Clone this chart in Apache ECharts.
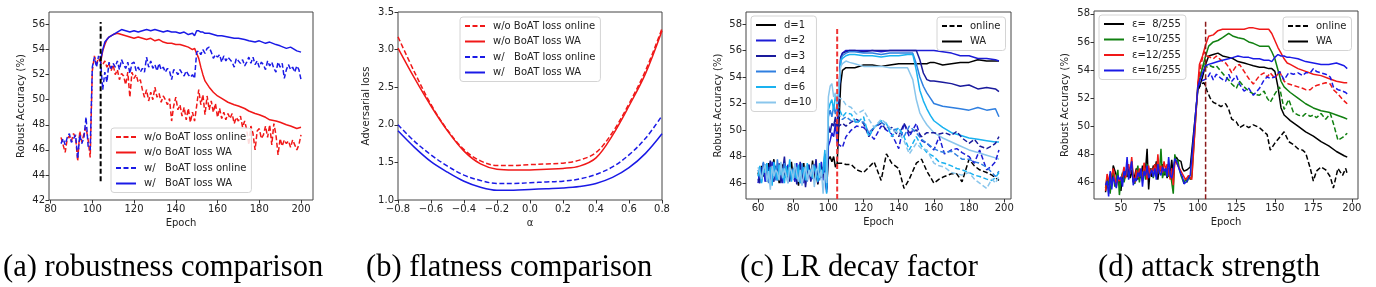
<!DOCTYPE html>
<html>
<head>
<meta charset="utf-8">
<script src="https://cdn.jsdelivr.net/npm/echarts/dist/echarts.min.js"></script>
<style>
  html, body { margin: 0; padding: 0; background: #fff; }
  #chart { width: 1376px; height: 287px; }
</style>
</head>
<body>
<div id="chart"></div>
<script>
// ---- (a) robustness comparison: online values per epoch 85..200, WA at listed epochs
const aStart = 85;
const aOnlineNo = [
  47.0,46.4,45.8,46.9,47.1,46.7,47.3,47.0,45.1,47.5,
  46.6,47.3,47.8,46.8,45.4,52.3,53.5,52.9,53.3,53.0,
  52.8,53.1,52.6,52.9,52.3,52.8,52.0,52.4,51.6,52.1,
  51.9,51.2,52.2,50.2,52.2,51.7,52.0,51.4,51.6,50.8,
  50.2,50.8,49.9,50.6,50.0,51.0,50.2,50.5,49.8,50.3,
  50.0,49.6,50.1,48.3,49.5,50.2,49.2,49.6,48.7,49.4,
  48.4,49.3,48.2,49.0,48.3,49.5,50.8,49.6,50.4,48.8,
  50.3,49.2,49.9,49.0,49.7,48.6,49.3,48.5,49.0,48.4,
  48.9,48.5,48.9,48.1,48.6,48.3,48.7,47.8,48.3,47.6,
  46.4,47.9,47.3,46.0,47.5,47.7,46.9,47.2,47.9,47.0,
  48.0,46.4,48.1,47.2,45.6,46.9,46.3,46.8,46.5,46.7,
  46.2,46.8,46.4,46.0,46.4,47.2
];
const aOnlineW = [
  46.5,46.9,46.4,47.0,47.3,46.6,46.9,47.2,45.3,47.2,
  46.5,47.0,48.6,46.3,46.0,52.6,53.4,52.6,53.5,53.0,
  50.8,52.2,51.4,53.0,52.5,52.9,52.6,53.1,52.4,53.2,
  52.8,52.5,53.0,52.1,52.9,53.0,52.3,52.6,52.2,52.5,
  52.2,53.4,52.6,53.1,52.5,52.8,52.3,52.9,52.4,52.6,
  52.2,52.5,52.3,51.6,52.4,52.3,52.0,52.4,52.1,51.9,
  52.3,52.0,51.8,52.0,51.7,53.8,53.9,53.6,54.0,53.7,
  54.1,54.2,53.8,53.3,53.6,53.4,53.6,53.0,53.5,53.1,
  53.4,53.2,53.0,52.6,53.3,53.1,52.9,53.2,52.7,53.0,
  53.4,52.9,53.4,52.8,53.1,52.6,53.0,52.8,52.4,53.1,
  52.7,53.0,52.5,52.2,53.0,52.6,52.9,51.7,52.4,52.8,
  52.4,52.6,52.2,52.7,52.4,51.6
];
const aWaEpochs = [104,105,106,107,108,110,112,114,116,118,120,122,124,126,128,130,132,134,136,138,
  140,142,144,146,148,149,150,151,152,153,154,156,158,160,162,165,168,170,173,175,
  178,180,183,185,188,190,193,195,198,200];
const aWaNo = [53.0,53.9,54.4,54.8,55.0,55.2,55.3,55.2,55.1,55.0,54.9,55.0,54.9,54.8,54.9,54.7,54.8,54.6,54.5,54.5,
  54.4,54.4,54.3,54.2,54.0,54.1,53.7,53.3,52.6,52.0,51.5,51.0,50.6,50.3,50.1,49.8,49.6,49.5,49.3,49.1,
  48.9,48.8,48.6,48.4,48.3,48.2,48.0,47.9,47.7,47.8];
const aWaW = [53.2,54.0,54.6,54.8,55.0,55.2,55.4,55.6,55.5,55.4,55.5,55.4,55.5,55.6,55.5,55.6,55.5,55.4,55.5,55.4,
  55.4,55.3,55.4,55.2,55.3,55.1,55.5,55.5,55.4,55.4,55.3,55.3,55.2,55.1,55.1,55.0,54.9,54.9,54.8,54.7,
  54.6,54.7,54.5,54.6,54.4,54.3,54.1,54.2,53.9,53.8];
const aVline = { epoch: 104, from: 43.5, to: 56.2 };

// ---- (b) flatness comparison
const alphas = [-0.8,-0.7,-0.6,-0.5,-0.4,-0.3,-0.2,-0.1,0,0.1,0.2,0.3,0.4,0.5,0.6,0.7,0.8];
const bOnlineNo = [3.17,2.70,2.27,1.93,1.67,1.52,1.46,1.46,1.47,1.48,1.49,1.53,1.63,1.90,2.28,2.72,3.28];
const bWaNo     = [3.02,2.62,2.25,1.92,1.65,1.48,1.41,1.40,1.40,1.41,1.42,1.45,1.56,1.86,2.25,2.68,3.25];
const bOnlineW  = [2.00,1.78,1.60,1.45,1.33,1.26,1.22,1.22,1.23,1.24,1.25,1.28,1.34,1.44,1.60,1.82,2.12];
const bWaW      = [1.92,1.70,1.51,1.37,1.25,1.17,1.13,1.13,1.14,1.15,1.16,1.18,1.22,1.30,1.43,1.62,1.88];

// ---- (c) LR decay factor: pre values per epoch 60..105, then WA / online at listed epochs
const cStart = 60;
const cNames = ['d=1','d=2','d=3','d=4','d=6','d=10'];
const cColors = ['#000000','#1c1cd6','#1a1a9c','#2f7fe0','#1ab2f0','#8ac6ec'];
const cPre = [
  [46.8,46.2,47.3,46.5,47.0,46.1,47.5,46.7,46.9,47.8, 46.3,47.1,46.0,46.8,47.4,46.5,47.0,46.2,46.7,47.6,
   46.4,47.0,46.6,45.8,47.2,46.9,47.5,46.3,46.8,47.1, 46.5,47.7,46.2,47.0,45.9,46.8,46.4,47.2,46.6,45.6,
   47.8,48.0,47.6,48.0,47.2,47.5],
  [46.0,47.0,46.3,47.5,46.1,46.9,47.2,46.0,47.6,46.5, 47.0,46.2,46.8,47.3,46.0,47.1,46.6,47.4,46.3,46.9,
   47.0,46.1,47.5,46.4,46.8,47.2,46.0,47.0,46.5,47.3, 46.2,46.9,47.4,46.3,47.0,46.5,47.6,46.2,46.9,45.3,
   48.8,49.2,49.8,49.5,50.5,49.0],
  [46.3,46.0,47.2,46.6,47.4,46.2,47.0,47.7,46.4,46.1, 47.3,46.7,47.5,46.0,46.9,48.0,46.4,47.2,46.1,47.0,
   46.6,47.4,45.9,46.8,47.6,46.3,47.1,45.7,46.9,47.4, 46.1,47.2,46.7,47.8,46.0,46.9,47.3,46.4,48.2,45.5,
   50.3,49.8,50.5,50.3,51.0,50.2],
  [47.0,46.5,46.1,47.6,46.8,47.2,46.0,47.0,46.6,47.4, 46.2,47.8,46.5,47.0,46.3,47.5,46.8,46.0,47.3,46.6,
   47.1,46.4,47.2,46.7,46.0,47.5,46.5,47.2,46.1,47.0, 46.8,46.3,47.4,46.6,47.1,46.2,47.0,46.7,47.5,45.8,
   51.0,51.5,51.0,51.8,51.2,51.3],
  [46.5,47.3,46.0,47.0,46.8,47.5,46.3,47.2,45.8,47.6, 46.9,46.2,47.4,46.6,47.1,46.0,47.3,46.5,47.8,46.1,
   47.0,46.7,46.3,47.4,46.0,46.8,47.2,46.2,47.5,46.6, 47.0,46.4,47.3,46.8,46.1,47.5,46.5,47.0,48.5,45.2,
   51.5,52.0,52.3,51.5,52.6,52.0],
  [47.2,46.8,46.3,47.0,47.4,46.1,46.9,45.5,47.3,46.5, 47.0,46.8,46.2,47.6,46.4,47.1,46.6,46.0,47.2,46.9,
   46.3,47.5,46.7,46.1,47.0,45.8,46.6,47.3,46.2,47.0, 46.5,47.4,45.7,46.9,47.2,46.4,47.0,45.2,46.8,46.0,
   52.5,53.3,53.5,52.5,52.8,52.0]
];
const cWaEpochs = [106,107,108,110,112,115,120,125,130,135,140,145,148,150,152,154,156,158,160,165,170,175,180,185,190,195,197];
const cWa = [
  [50.5,53.5,54.5,54.7,54.7,54.7,54.9,54.9,54.8,54.9,55.0,55.0,55.0,55.0,55.0,55.0,55.0,55.1,55.1,54.9,55.0,55.1,55.1,55.3,55.2,55.2,55.2],
  [53.0,55.5,55.8,56.0,56.0,56.0,56.0,56.0,55.9,56.0,56.0,56.0,56.0,56.0,56.0,56.0,56.0,56.0,56.0,55.9,55.8,55.6,55.6,55.4,55.4,55.3,55.2],
  [52.5,55.4,55.8,55.9,56.0,56.0,55.9,56.0,56.0,56.0,56.0,56.0,56.0,56.0,55.3,54.3,53.8,53.7,53.7,53.6,53.5,53.3,53.4,53.1,53.2,53.1,52.9],
  [52.8,55.3,55.6,55.8,55.9,55.9,55.8,55.8,55.7,55.8,55.8,55.8,55.8,55.0,54.0,53.3,52.8,52.4,52.0,51.8,51.7,51.6,51.5,51.7,51.5,51.6,51.0],
  [53.0,55.2,55.4,55.6,55.7,55.7,55.6,55.6,55.5,55.6,55.6,55.7,55.7,54.5,53.0,52.2,51.6,51.1,50.7,50.2,49.8,49.6,49.4,49.3,49.2,49.1,49.1],
  [53.5,54.8,55.0,55.2,55.1,55.0,54.8,54.8,54.8,54.7,54.7,54.7,53.8,52.3,51.3,50.8,50.4,50.1,49.8,49.4,49.1,48.8,48.5,48.3,48.1,47.9,47.8]
];
const cOnEpochs = [105,108,110,113,116,120,123,126,130,133,136,140,143,146,150,153,156,160,163,166,170,173,176,180,183,186,190,193,195,197];
const cOnline = [
  [47.5,47.5,47.4,47.4,47.0,46.8,47.2,47.6,46.2,48.2,47.5,47.1,45.6,46.3,47.5,47.8,46.9,46.0,46.3,46.5,46.7,46.7,46.1,47.8,47.3,47.0,46.8,46.6,46.4,46.2],
  [49.0,48.7,49.5,50.0,50.3,50.2,49.8,49.3,50.3,50.0,49.7,48.6,50.5,49.5,50.5,49.2,49.0,48.5,49.5,48.2,48.5,48.6,48.3,48.0,47.5,48.5,47.0,47.3,47.6,48.5],
  [50.2,50.5,50.3,50.6,50.8,50.5,49.5,50.2,50.5,50.0,50.2,49.5,50.5,49.8,50.0,49.5,49.8,49.8,49.7,49.8,49.6,49.9,49.4,49.0,49.3,48.8,48.6,48.8,49.0,49.5],
  [51.3,50.8,51.0,50.7,50.6,50.6,49.8,50.2,50.6,50.3,50.0,50.1,49.5,50.3,49.8,49.3,49.0,48.6,48.4,48.3,48.4,48.1,47.8,47.8,47.6,47.5,47.2,46.8,46.5,46.9],
  [52.0,51.0,51.3,51.2,50.5,51.0,49.5,50.2,50.7,50.5,49.5,50.2,49.5,48.5,49.5,48.8,48.3,48.0,47.6,47.5,47.3,47.1,47.0,46.8,46.6,46.5,46.3,46.2,46.4,46.8],
  [52.5,52.3,51.9,51.7,51.2,51.5,50.8,50.2,50.8,50.5,50.0,49.8,49.2,48.2,49.0,48.6,48.5,47.5,47.3,47.2,46.8,46.7,46.6,46.8,46.3,46.0,45.6,46.3,46.0,46.5]
];
const cVline = { epoch: 105, from: 44.8, to: 57.7 };

// ---- (d) attack strength: pre values per epoch 40..96, then WA / online at listed epochs
const dStart = 40;
const dNames = ['ε=  8/255','ε=10/255','ε=12/255','ε=16/255'];
const dColors = ['#000000','#118011','#f01818','#1a1ae6'];
const dPre = [
  [45.3,46.2,45.8,46.6,45.9,47.2,47.2,46.5,46.0,46.3, 45.4,46.6,46.2,46.8,46.4,47.0,46.3,46.9,46.0,46.5,
   47.0,46.2,46.8,46.3,47.2,46.5,46.9,48.4,45.5,47.0, 46.4,47.2,46.8,47.5,46.2,47.1,46.8,47.3,46.5,46.9,
   46.3,47.0,46.6,47.6,46.4,47.6,47.8,47.6,47.6,47.5, 47.0,46.8,46.8,46.9,47.0,47.1,47.2],
  [45.6,46.4,46.0,45.2,46.5,46.8,45.7,46.3,46.9,45.1, 46.2,46.7,46.0,46.5,47.0,46.3,46.8,47.5,46.2,45.9,
   46.6,47.2,46.0,46.8,46.4,47.0,46.2,47.3,46.5,46.8, 47.0,46.3,46.9,46.5,47.2,46.6,48.4,46.3,46.9,46.5,
   47.1,46.4,46.8,46.0,45.2,48.0,47.4,47.6,46.9,46.5, 46.2,45.9,46.3,46.0,46.5,46.2,46.4],
  [45.4,46.6,46.2,46.0,46.5,47.0,46.4,45.7,46.3,46.1, 46.0,46.5,47.1,46.3,46.8,47.3,46.6,47.8,46.4,46.0,
   46.9,46.3,47.0,46.6,46.1,47.4,46.8,46.2,47.2,46.5, 47.0,46.8,47.3,46.4,48.0,46.6,47.2,46.7,47.5,46.9,
   47.3,46.8,46.2,47.0,45.8,47.6,47.4,47.5,47.0,46.8, 46.6,46.5,46.2,46.3,46.5,46.4,46.2],
  [45.8,46.1,45.0,46.8,45.5,46.4,46.0,45.6,46.5,46.2, 46.4,45.7,46.8,46.5,47.8,46.2,46.9,47.5,45.8,46.3,
   46.1,46.7,46.4,47.0,45.7,46.8,46.5,47.2,46.3,46.6, 46.9,46.4,47.0,46.2,47.3,46.7,46.5,47.1,46.8,47.0,
   46.4,47.8,46.5,46.3,46.9,47.7,47.5,47.2,46.9,46.6, 46.4,45.9,46.0,46.1,46.3,46.5,46.4]
];
const dWaEpochs = [100,101,103,105,107,110,113,116,120,123,126,130,133,136,140,143,146,148,150,152,154,156,158,160,165,170,175,180,185,190,195,197];
const dWa = [
  [52.6,52.8,53.5,54.4,55.0,55.1,55.2,55.0,54.9,54.8,54.6,54.5,54.4,54.3,54.2,54.2,54.1,54.1,53.9,52.8,51.3,50.8,50.6,50.4,50.0,49.6,49.3,48.9,48.6,48.2,47.9,47.8],
  [53.0,53.3,54.2,55.0,55.7,56.0,56.1,56.3,56.6,56.4,56.3,56.2,56.0,55.9,55.7,55.7,55.7,55.3,54.8,54.0,53.2,52.8,52.6,52.4,52.0,51.6,51.3,51.1,51.0,50.8,50.6,50.5],
  [53.0,54.4,55.0,55.8,56.4,56.5,56.8,56.9,56.9,56.9,56.9,56.9,57.0,57.0,56.9,56.9,56.9,56.6,56.1,55.6,55.2,54.8,54.5,54.4,54.1,53.9,53.7,53.6,53.4,53.2,53.1,53.1],
  [52.8,53.2,53.8,54.3,54.4,54.5,54.6,54.7,54.8,54.9,55.0,54.9,54.9,54.8,54.8,54.7,54.7,54.6,54.9,55.1,55.0,55.0,54.9,54.9,54.8,54.6,54.5,54.4,54.4,54.5,54.3,54.1]
];
const dOnEpochs = [100,102,104,106,108,110,112,115,118,120,122,125,127,130,133,136,140,143,145,147,150,153,156,159,162,165,168,170,173,175,177,180,183,186,188,191,194,196,197];
const dOnline = [
  [52.6,53.0,53.1,52.5,52.0,51.7,51.6,51.4,51.6,51.2,50.5,50.3,49.9,50.1,49.9,50.1,49.9,49.6,49.4,48.3,48.8,49.2,49.6,48.9,48.7,48.4,48.3,48.1,47.0,46.1,46.8,47.1,46.9,46.4,45.6,47.0,46.5,47.0,46.6],
  [53.0,53.8,54.5,54.2,54.3,54.2,54.3,53.9,53.5,53.3,53.0,52.7,53.2,52.8,52.5,52.3,52.2,52.5,52.0,51.7,52.3,52.8,51.2,51.9,51.0,50.8,50.7,50.9,50.7,50.8,50.6,50.9,50.5,50.9,50.2,49.0,49.2,49.4,49.5],
  [53.0,54.4,55.3,55.0,54.9,54.8,55.0,54.7,54.5,54.2,53.8,54.3,54.4,53.9,53.4,53.0,53.6,53.8,53.5,53.8,53.4,53.9,53.2,53.0,52.9,52.8,52.7,52.6,52.6,52.8,52.9,53.0,53.1,53.0,52.6,52.3,51.9,51.7,51.6],
  [52.8,53.2,53.3,53.4,53.8,53.3,53.7,53.4,53.2,53.7,53.2,53.6,53.0,52.5,52.7,52.2,52.7,53.3,53.5,53.4,53.5,53.9,53.3,53.8,53.7,53.8,53.6,53.8,53.8,54.1,53.9,53.8,53.7,53.5,52.8,52.6,52.5,52.4,52.3]
];
const dVline = { epoch: 105, from: 44.8, to: 57.5 };

const aNames = ['w/o BoAT loss online', 'w/o BoAT loss WA', 'w/   BoAT loss online', 'w/   BoAT loss WA'];
const RED = '#f01818', BLUE = '#1a1ae6';
const DASH = [5, 2.5];
const FONT = 'DejaVu Sans';

function zip(xs, ys) { return xs.map((x, i) => [x, ys[i]]); }
function fromStart(start, ys) { return ys.map((y, i) => [start + i, y]); }
function line(name, data, color, dashed, idx, width, smooth) {
  return {
    type: 'line', name: name, data: data, xAxisIndex: idx, yAxisIndex: idx,
    symbol: 'none', animation: false, silent: true, smooth: smooth || false,
    lineStyle: { color: color, width: width || 1.5, type: dashed ? DASH : 'solid' },
    itemStyle: { color: color }
  };
}

const grids = [
  { left: 49, top: 12, width: 264, height: 188 },
  { left: 398, top: 12, width: 264, height: 188 },
  { left: 746, top: 12, width: 265, height: 187 },
  { left: 1094, top: 11, width: 264, height: 188 }
].map(g => Object.assign(g, { show: true, borderColor: '#444', borderWidth: 1, backgroundColor: 'transparent' }));

function axisCommon(ticks, fmt) {
  return {
    axisLine: { show: false, onZero: false },
    splitLine: { show: false },
    axisTick: { show: true, customValues: ticks, length: 3.5, lineStyle: { color: '#333' } },
    axisLabel: { customValues: ticks, fontSize: 10, fontFamily: FONT, color: '#222', margin: 4, formatter: fmt }
  };
}
const minusFmt = v => (v < 0 ? '\u2212' : '') + Math.abs(v).toFixed(1);

const xAxes = [
  Object.assign({ type: 'value', gridIndex: 0, min: 79.25, max: 205.75, name: 'Epoch' }, axisCommon([80,100,120,140,160,180,200])),
  Object.assign({ type: 'value', gridIndex: 1, min: -0.8, max: 0.8, name: 'α' }, axisCommon([-0.8,-0.6,-0.4,-0.2,0,0.2,0.4,0.6,0.8], minusFmt)),
  Object.assign({ type: 'value', gridIndex: 2, min: 53.15, max: 203.85, name: 'Epoch' }, axisCommon([60,80,100,120,140,160,180,200])),
  Object.assign({ type: 'value', gridIndex: 3, min: 32.5, max: 204, name: 'Epoch' }, axisCommon([50,75,100,125,150,175,200]))
].map(a => Object.assign(a, { nameLocation: 'middle', nameGap: 17, nameTextStyle: { fontSize: 10, fontFamily: FONT, color: '#222' } }));

const yAxes = [
  Object.assign({ type: 'value', gridIndex: 0, min: 42, max: 57, name: 'Robust Accuracy (%)', nameGap: 23 }, axisCommon([42,44,46,48,50,52,54,56])),
  Object.assign({ type: 'value', gridIndex: 1, min: 1.0, max: 3.5, name: 'Adversarial loss', nameGap: 27 }, axisCommon([1.0,1.5,2.0,2.5,3.0,3.5], v => v.toFixed(1))),
  Object.assign({ type: 'value', gridIndex: 2, min: 44.8, max: 58.9, name: 'Robust Accuracy (%)', nameGap: 23 }, axisCommon([46,48,50,52,54,56,58])),
  Object.assign({ type: 'value', gridIndex: 3, min: 44.82, max: 58.2, name: 'Robust Accuracy (%)', nameGap: 24 }, axisCommon([46,48,50,52,54,56,58]))
].map(a => Object.assign(a, { nameLocation: 'middle', nameTextStyle: { fontSize: 10, fontFamily: FONT, color: '#222' } }));

const series = [];
// (a)
series.push(line(aNames[0], fromStart(aStart, aOnlineNo), RED, true, 0));
series.push(line(aNames[1], zip(aWaEpochs, aWaNo), RED, false, 0));
series.push(line(aNames[2], fromStart(aStart, aOnlineW), BLUE, true, 0));
series.push(line(aNames[3], zip(aWaEpochs, aWaW), BLUE, false, 0));
series.push(line('a-vline', [[aVline.epoch, aVline.from], [aVline.epoch, aVline.to]], '#000', true, 0, 2));
// (b)
series.push(line(aNames[0] + ' ', zip(alphas, bOnlineNo), RED, true, 1, 1.5, 0.35));
series.push(line(aNames[1] + ' ', zip(alphas, bWaNo), RED, false, 1, 1.5, 0.35));
series.push(line(aNames[2] + ' ', zip(alphas, bOnlineW), BLUE, true, 1, 1.5, 0.35));
series.push(line(aNames[3] + ' ', zip(alphas, bWaW), BLUE, false, 1, 1.5, 0.35));
// (c)
cNames.forEach((n, i) => {
  series.push(line(n, fromStart(cStart, cPre[i]).concat(zip(cWaEpochs, cWa[i])), cColors[i], false, 2));
});
cNames.forEach((n, i) => {
  series.push(line(n + ' online', zip(cOnEpochs, cOnline[i]), cColors[i], true, 2));
});
series.push(line('c-vline', [[cVline.epoch, cVline.from], [cVline.epoch, cVline.to]], '#ee3333', true, 2, 2));
series.push(line('online', [], '#000', true, 2));
series.push(line('WA', [], '#000', false, 2));
// (d)
dNames.forEach((n, i) => {
  series.push(line(n, fromStart(dStart, dPre[i]).concat(zip(dWaEpochs, dWa[i])), dColors[i], false, 3));
  series.push(line(n + ' online', zip(dOnEpochs, dOnline[i]), dColors[i], true, 3));
});
series.push(line('d-vline', [[dVline.epoch, dVline.from], [dVline.epoch, dVline.to]], '#8b1a1a', true, 3, 1.5));

function legend(names, left, top, gap) {
  return {
    data: names, left: left, top: top, orient: 'vertical',
    itemWidth: 20, itemHeight: 10, itemGap: gap,
    padding: [4, 5, 4, 4],
    backgroundColor: 'rgba(255,255,255,0.85)', borderColor: '#d4d4d4', borderWidth: 1, borderRadius: 3,
    itemStyle: { opacity: 0 },
    textStyle: { fontSize: 10, fontFamily: FONT, color: '#222', padding: [0, 0, 0, 3] },
    selectedMode: false, z: 10
  };
}

const captions = [
  ['(a) robustness comparison', 3],
  ['(b) flatness comparison', 366],
  ['(c) LR decay factor', 740],
  ['(d) attack strength', 1098]
];

const option = {
  animation: false,
  backgroundColor: '#fff',
  grid: grids,
  xAxis: xAxes,
  yAxis: yAxes,
  legend: [
    legend(aNames, 111, 128, 5.5),
    Object.assign(legend(aNames.map(n => n + ' '), 460, 17, 5.5), { formatter: n => n.slice(0, -1) }),
    legend(cNames, 751, 16, 5.5),
    legend(['online', 'WA'], 937, 17, 5.5),
    legend(dNames, 1099, 15, 5.5),
    legend(['online', 'WA'], 1283, 17, 5.5)
  ],
  graphic: captions.map(c => ({
    type: 'text', left: c[1], top: 252, silent: true,
    style: { text: c[0], font: '30.5px "Liberation Serif"', fill: '#000' }
  })),
  series: series
};

const chart = echarts.init(document.getElementById('chart'), null, { renderer: 'canvas' });
chart.setOption(option);
</script>
</body>
</html>
